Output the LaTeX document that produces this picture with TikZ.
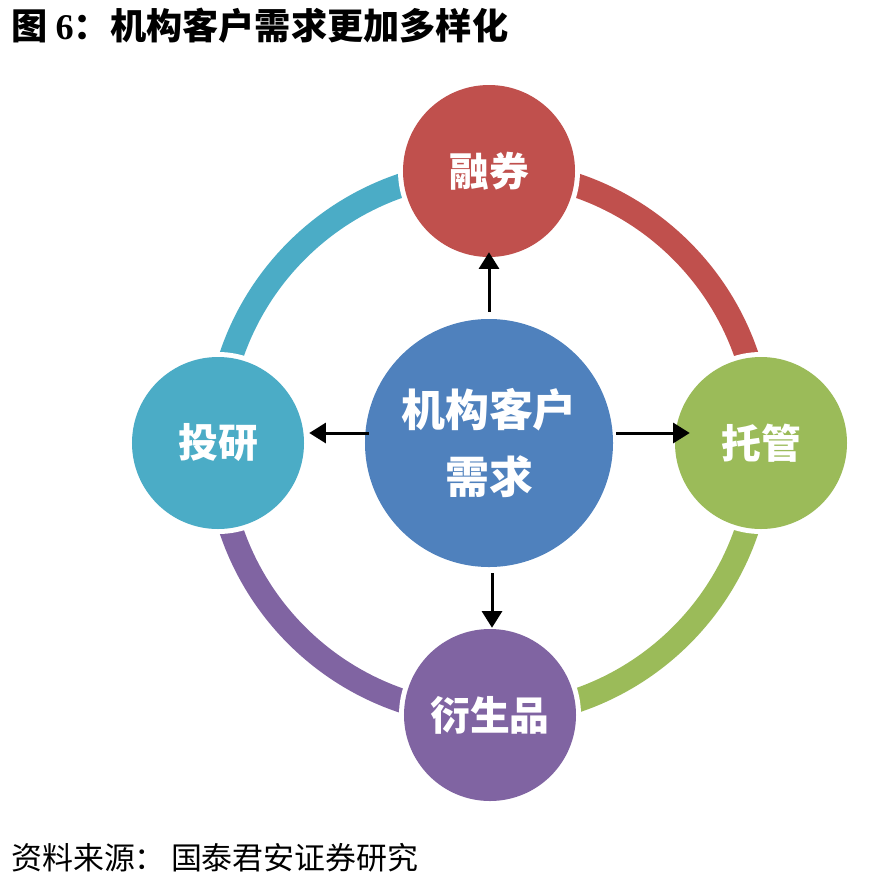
\documentclass[tikz,border=0pt]{standalone}
\usepackage{fontspec}
\setmainfont{Liberation Serif}
\newfontfamily\cjk{Noto Sans CJK SC}
\usetikzlibrary{arrows.meta}

\definecolor{rqred}{HTML}{C0504D}
\definecolor{tzgreen}{HTML}{9BBB59}
\definecolor{yspurple}{HTML}{8064A2}
\definecolor{tycyan}{HTML}{4BACC6}
\definecolor{coreblue}{HTML}{4F81BD}

\tikzset{
  sat/.style={circle, fill=#1, inner sep=0pt, minimum size=5.16cm,
    preaction={draw=white, line width=0.3cm},
    text=white, font=\cjk\bfseries\fontsize{34}{40}\selectfont},
  ring/.style={draw=#1, line width=0.72cm},
  arr/.style={-{Triangle[length=0.5cm, width=0.6cm]}, line width=0.09cm}
}

\begin{document}
\begin{tikzpicture}[x=0.03cm, y=-0.03cm]
      \useasboundingbox (0, 0) rectangle (880, 886);
      \node[anchor=west, inner sep=0pt, font=\cjk\bfseries\fontsize{30.9}{36}\selectfont]
        (title) at (11, 26) {图 {\rmfamily 6}：机构客户需求更加多样化};

      % ring behind the circles
      \draw[ring=rqred] (489, 171) arc[start angle=90, end angle=0, radius=8.16cm];
      \draw[ring=tzgreen] (761, 443) arc[start angle=0, end angle=-90, radius=8.16cm];
      \draw[ring=yspurple] (489, 715) arc[start angle=-90, end angle=-180, radius=8.16cm];
      \draw[ring=tycyan] (217, 443) arc[start angle=180, end angle=90, radius=8.16cm];

      \node[circle, fill=coreblue, inner sep=0pt, minimum size=7.44cm, text=white,
        align=center, font=\cjk\bfseries\fontsize{37.5}{57}\selectfont]
        (core) at (489, 443) {机构客户\\需求};
      \node[sat=rqred] (rq) at (489, 171) {融券};
      \node[sat=tzgreen] (tz) at (761, 443) {托管};
      \node[sat=yspurple] (ysp) at (490, 715) {衍生品};
      \node[sat=tycyan] (ty) at (218, 443) {投研};

      \draw[arr, shorten <=0.21cm, shorten >=-0.15cm] (core.north) -- (rq.south);
      \draw[arr, shorten <=0.09cm, shorten >=-0.45cm] ([yshift=0.3cm]core.east) -- ([yshift=0.3cm]tz.west);
      \draw[arr, shorten <=-0.12cm, shorten >=0.15cm] ([yshift=0.3cm]core.west) -- ([yshift=0.3cm]ty.east);
      \draw[arr, shorten <=0.18cm, shorten >=0.03cm] ([xshift=0.09cm]core.south) -- ([xshift=0.06cm]ysp.north);

      \node[anchor=west, inner sep=0pt, font=\cjk\fontsize{26.4}{30}\selectfont]
        (source) at (11, 858) {资料来源：\,国泰君安证券研究};
    \end{tikzpicture}
\end{document}
